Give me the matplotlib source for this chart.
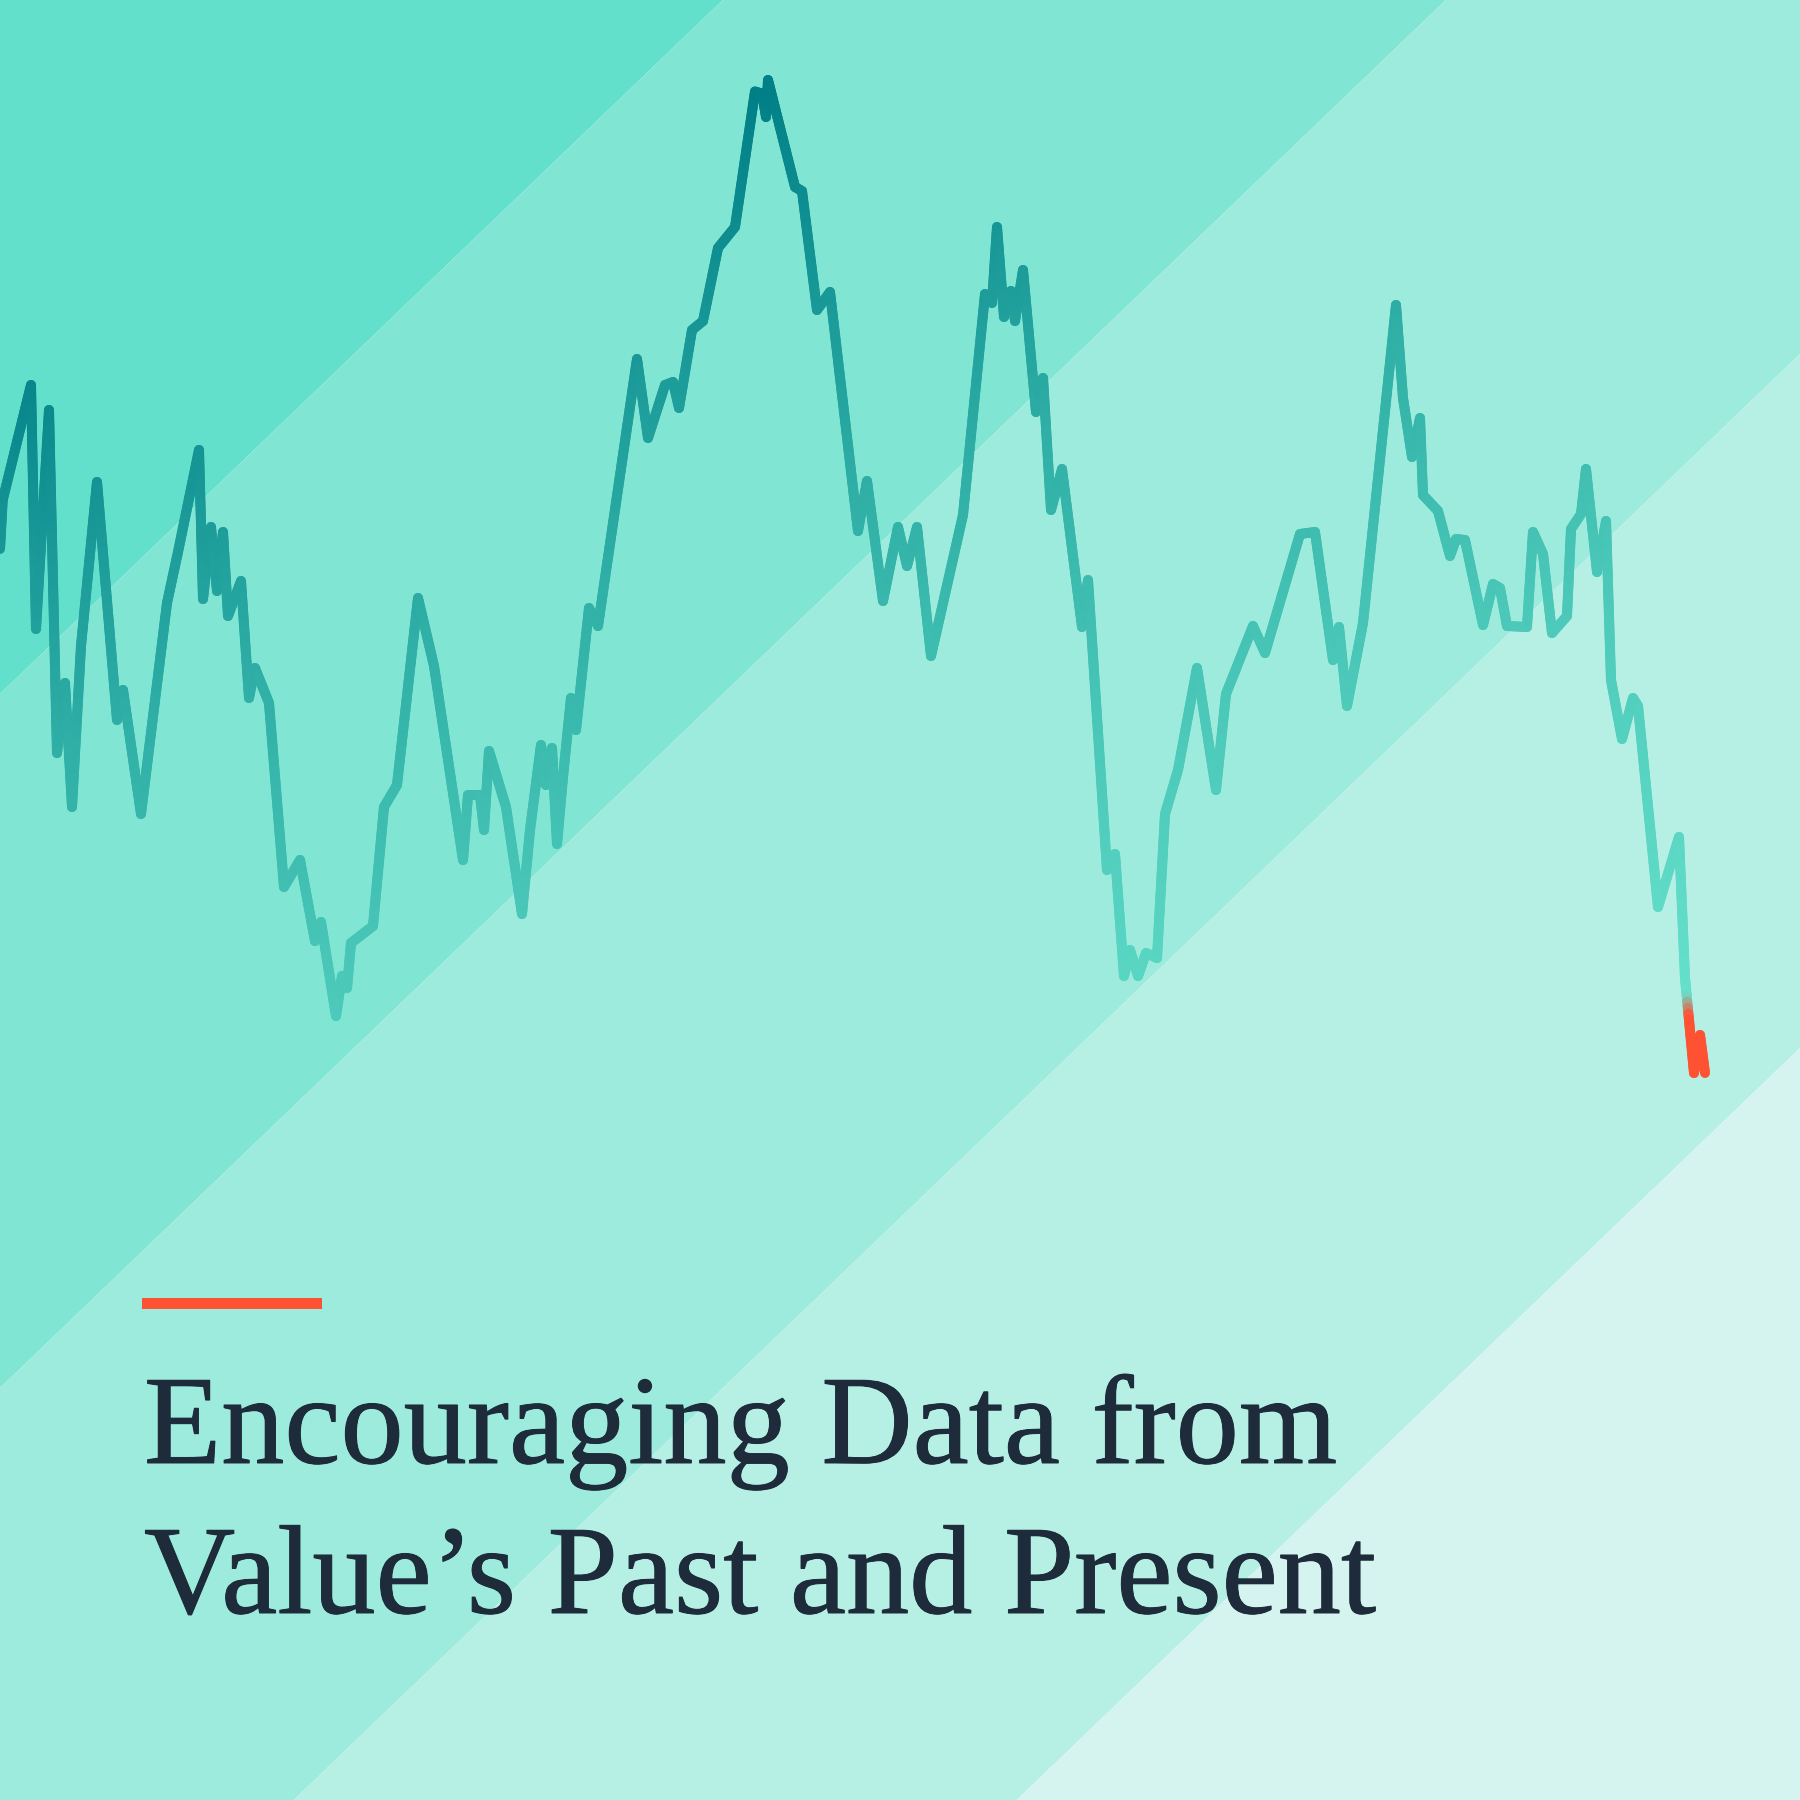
import numpy as np
import matplotlib
matplotlib.use("Agg")
import matplotlib.pyplot as plt
import matplotlib.patheffects as pe
from matplotlib.collections import LineCollection
from matplotlib.colors import LinearSegmentedColormap
from matplotlib.patches import Rectangle

# ---- data (relative index) ----
periods = [0.0, 0.27, 3.1, 3.6, 4.9, 5.7, 6.5, 7.2, 8.1, 9.7, 11.7, 12.3, 14.1, 16.7, 17.8,
           19.9, 20.3, 21.1, 21.7, 22.3, 22.8, 24.1, 24.9, 25.5, 26.9, 28.4, 30.0,
           31.5, 32.1, 33.6, 34.2, 34.7, 35.1, 37.3, 38.4, 39.7, 41.8, 43.4, 46.3, 46.8,
           48.0, 48.4, 48.9, 50.6, 52.2, 53.0, 54.1, 54.6, 55.2, 55.7, 56.3, 57.1, 57.6,
           58.9, 59.8,
           63.7, 64.8, 66.5, 67.3, 67.9, 69.2, 70.3, 71.8, 73.5, 75.5, 76.2, 76.6, 76.8,
           79.5, 80.2, 81.7, 83.0, 85.8, 86.7, 88.3, 89.8,
           90.7, 91.7, 93.1, 96.3, 98.5, 99.2, 99.7, 100.4, 101.1, 101.5, 102.3, 103.6,
           104.3, 105.1, 106.2, 108.2, 108.8, 110.7, 111.5, 112.4, 113.0, 113.8, 114.6,
           115.7, 116.5, 117.8, 119.7,
           121.6, 122.6, 125.3, 126.5, 130.0, 131.5, 133.3, 133.9, 134.7, 136.3, 139.6,
           140.3, 141.2, 142.0, 142.3, 143.8, 145.0, 145.6, 146.5, 148.3, 149.3,
           150.0, 150.7, 152.7, 153.3, 154.3, 155.2, 156.7, 157.1, 158.1, 158.6, 159.7,
           160.6, 161.1, 162.2, 163.3, 163.8, 165.8, 167.9, 168.5, 169.4, 170.0, 170.5]
values = [125.1, 130.0, 141.5, 117.1, 139.0, 104.7, 111.7, 99.3, 115.4, 131.8, 108.0, 111.0,
          98.6, 119.7, 124.8, 135.0, 120.1, 127.3, 120.9, 126.8, 118.4, 121.9, 110.2, 113.2,
          109.7, 91.3, 94.0,
          85.9, 87.8, 78.4, 82.4, 81.2, 85.7, 87.4, 99.3, 101.5, 120.2, 113.4, 94.0, 100.5,
          100.5, 97.0, 104.9, 99.3, 88.6, 97.0, 105.5, 101.5, 105.2, 95.6, 102.3, 110.2,
          107.0, 119.2, 117.4,
          144.1, 136.2, 141.5, 141.8, 139.2, 147.0, 147.9, 155.2, 157.3, 170.85, 170.65,
          168.3, 172.0, 161.3, 160.9, 149.0, 150.8, 126.9, 131.9, 119.9, 127.3,
          123.4, 127.3, 114.4, 128.5, 150.6, 149.7, 157.3, 148.3, 150.9, 147.9, 153.0,
          138.8, 142.2, 129.0, 133.1, 117.3, 122.0, 93.0, 94.6, 82.4, 85.0, 82.4, 84.7,
          84.2, 98.6, 103.0, 113.2,
          101.0, 110.6, 117.4, 114.7, 126.6, 126.8, 114.0, 117.3, 109.4, 117.7, 149.5,
          140.2, 134.3, 138.2, 130.5, 128.9, 124.4, 126.1, 126.0, 117.5, 121.6,
          121.2, 117.4, 117.3, 126.8, 124.6, 116.7, 118.4, 127.1, 128.6, 133.1, 122.8,
          127.9, 112.0, 106.1, 110.2, 109.4, 89.3, 96.3, 82.2, 72.7, 76.5, 72.7]

band_offsets = [110.6, 41.2, -28.2, -97.6]
band_slope = 0.96
band_colors = ["#63E0CB", "#80E5D3", "#9DEBDC", "#B6EFE4", "#D6F4EF"]

line_stops = [(0.0, "#007C84"), (0.16, "#007F87"), (0.45, "#2FAFA6"), (0.68, "#4DCABA"),
              (0.93, "#63DECA"), (0.948, "#65E0CB"), (0.962, "#FF5233"), (1.0, "#FF5233")]

title_lines = ["Encouraging Data from", "Value\u2019s Past and Present"]
title_color = "#1D2B3A"
accent_color = "#FF5233"

# ---- figure ----
fig = plt.figure(figsize=(18, 18), dpi=100)
ax = fig.add_axes([0, 0, 1, 1])
ax.set_xlim(0, 180)
ax.set_ylim(0, 180)
ax.axis("off")

xs = np.array([0.0, 180.0])
for i, col in enumerate(band_colors):
    lower = band_offsets[i] + band_slope * xs if i < len(band_offsets) else np.full(2, -1000.0)
    upper = band_offsets[i - 1] + band_slope * xs if i > 0 else np.full(2, 1000.0)
    ax.fill_between(xs, lower, upper, color=col, lw=0, zorder=0)

# gradient line
px = np.asarray(periods, float)
py = np.asarray(values, float)
segs, tvals = [], []
xmin, xmax = px.min(), px.max()
vmin, vmax = py.min(), py.max()
for i in range(len(px) - 1):
    p0 = np.array([px[i], py[i]])
    p1 = np.array([px[i + 1], py[i + 1]])
    n = max(1, int(np.ceil(np.hypot(*(p1 - p0)) / 0.3)))
    fr = np.linspace(0, 1, n + 1)
    pts = p0 + (p1 - p0) * fr[:, None]
    for j in range(n):
        a, b = pts[j], pts[j + 1]
        mx, my = (a + b) / 2
        u = (mx - xmin) / (xmax - xmin)
        w = (vmax - my) / (vmax - vmin)
        segs.append([a, b])
        tvals.append(0.35 * u + 0.65 * w)

cmap = LinearSegmentedColormap.from_list("lineg", line_stops)
lc = LineCollection(segs, colors=cmap(np.clip(tvals, 0, 1)), linewidths=7.2,
                    capstyle="round", joinstyle="round", zorder=3)
ax.add_collection(lc)

# accent dash
fig.patches.append(Rectangle((142 / 1800, 1 - 1309 / 1800), 180 / 1800, 11 / 1800,
                             transform=fig.transFigure, facecolor=accent_color,
                             edgecolor="none", zorder=4))

# title
for k, (txt, base) in enumerate(zip(title_lines, [1463, 1613])):
    fig.text(144 / 1800, 1 - base / 1800, txt, fontsize=91, family="Liberation Serif",
             color=title_color, va="baseline", ha="left", zorder=5,
             path_effects=[pe.withStroke(linewidth=0.7, foreground=title_color)])

fig.savefig("out.png", dpi=100)
